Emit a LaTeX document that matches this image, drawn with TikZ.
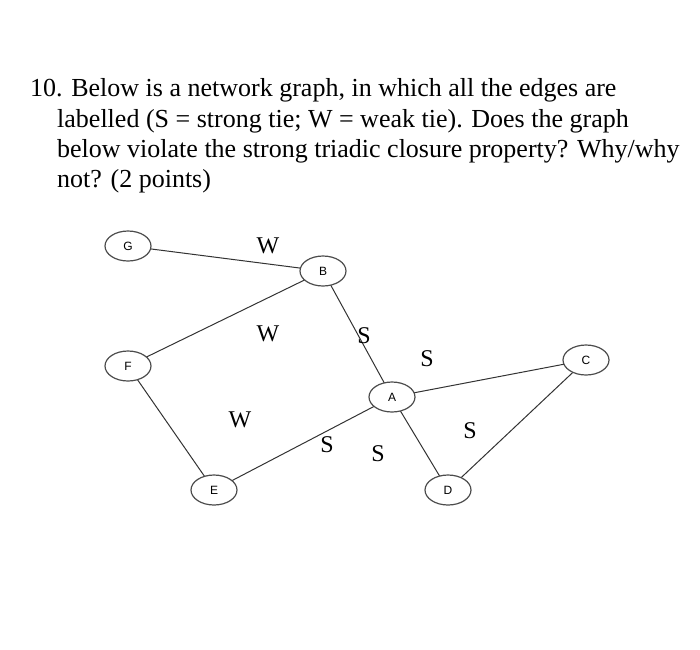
\documentclass[tikz,border=0pt]{standalone}
\usepackage{fontspec}
\setmainfont{Liberation Serif}
\newfontfamily\nodefont{Liberation Sans}
\usetikzlibrary{shapes.geometric}
\begin{document}
\begin{tikzpicture}[x=1pt,y=-1pt,
  vert/.style={ellipse,draw=gray!60!black,line width=1.2pt,fill=white,minimum width=46pt,minimum height=30pt,inner sep=0pt,font=\nodefont\fontsize{12}{14}\selectfont},
  edge/.style={draw=gray!40!black,line width=1pt},
  lab/.style={font=\fontsize{24}{26}\selectfont},
  txt/.style={anchor=base west,inner sep=0pt,font=\fontsize{26}{30}\selectfont}]
\useasboundingbox (0,0) rectangle (700,649);
\node[txt] (t1) at (30,96) {10. Below is a network graph, in which all the edges are};
\node[txt] (t2) at (57,127) {labelled (S = strong tie; W = weak tie). Does the graph};
\node[txt] (t3) at (57,157) {below violate the strong triadic closure property? Why/why};
\node[txt] (t4) at (57,187) {not? (2 points)};
\draw[edge] (128,246) -- (323,271);
\draw[edge] (323,271) -- (128,366);
\draw[edge] (323,271) -- (392,397);
\draw[edge] (128,366) -- (214,490);
\draw[edge] (214,490) -- (392,397);
\draw[edge] (392,397) -- (586,360);
\draw[edge] (392,397) -- (448,490);
\draw[edge] (448,490) -- (586,360);
\node[vert] (G) at (128,246) {G};
\node[vert] (B) at (323,271) {B};
\node[vert] (F) at (128,366) {F};
\node[vert] (A) at (392,397) {A};
\node[vert] (C) at (586,360) {C};
\node[vert] (E) at (214,490) {E};
\node[vert] (D) at (448,490) {D};
\node[lab] (l1) at (268,246) {W};
\node[lab] (l2) at (268,334) {W};
\node[lab] (l3) at (364,336) {S};
\node[lab] (l4) at (427,359) {S};
\node[lab] (l5) at (240,420) {W};
\node[lab] (l6) at (470,431) {S};
\node[lab] (l7) at (327,445) {S};
\node[lab] (l8) at (378,454) {S};
\end{tikzpicture}
\end{document}
